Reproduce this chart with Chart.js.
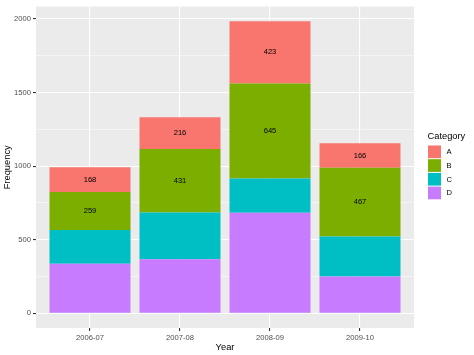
<!DOCTYPE html>
<html><head><meta charset="utf-8">
<script src="https://cdn.jsdelivr.net/npm/chart.js@4/dist/chart.umd.min.js"></script>
<style>html,body{margin:0;padding:0;background:#fff}#wrap{width:474px;height:355px}</style>
</head><body><div id="wrap"><canvas id="c" width="474" height="355"></canvas></div>
<script>
const years = ["2006-07","2007-08","2008-09","2009-10"];
const seriesA = [168,216,423,166];
const seriesB = [259,431,645,467];
const seriesC = [228,317,233,271];
const seriesD = [338,368,684,251];
const yTicks = [0,250,500,750,1000,1250,1500,1750,2000];
const categoryNames = ["A","B","C","D"];
const colors = {A:"#F8766D",B:"#7CAE00",C:"#00BFC4",D:"#C77CFF"};
const FONT = "'Liberation Sans', Arial, sans-serif";

const totals = years.map((_,i)=>seriesA[i]+seriesB[i]+seriesC[i]+seriesD[i]);
const maxTot = Math.max(...totals);
const pad = maxTot*0.05;

const toXY = arr => arr.map((v,i)=>({x:i,y:v}));

const bgPlugin = {
  id:'bg',
  beforeDraw(chart){
    const {ctx, chartArea:a} = chart;
    ctx.save(); ctx.fillStyle='#EBEBEB';
    ctx.fillRect(a.left,a.top,a.right-a.left,a.bottom-a.top); ctx.restore();
  }
};
const labelPlugin = {
  id:'lbl',
  afterDatasetsDraw(chart){
    const ctx=chart.ctx; ctx.save();
    ctx.font = "7.6px "+FONT; ctx.fillStyle='#000'; ctx.textAlign='center'; ctx.textBaseline='middle';
    chart.data.datasets.forEach((ds,di)=>{
      if(!ds.showLabels) return;
      const meta=chart.getDatasetMeta(di);
      meta.data.forEach((bar,i)=>{
        ctx.fillText(String(ds.data[i].y), bar.x, (bar.y+bar.base)/2);
      });
    });
    ctx.restore();
  }
};
const legendPlugin = {
  id:'lg',
  afterDraw(chart){
    const ctx=chart.ctx; ctx.save();
    ctx.fillStyle='#000'; ctx.textBaseline='middle'; ctx.textAlign='left';
    ctx.font="9.3px "+FONT;
    ctx.fillText("Category",427.5,136.5);
    ctx.font="7.6px "+FONT;
    categoryNames.forEach((n,k)=>{
      const y=145.5+k*13.7;
      ctx.fillStyle=colors[n];
      ctx.fillRect(428,y,13,12.7);
      ctx.fillStyle='#000';
      ctx.fillText(n,446.5,y+6.6);
    });
    ctx.restore();
  }
};

new Chart(document.getElementById('c'),{
  type:'bar',
  data:{datasets:[
    {label:'D',data:toXY(seriesD),backgroundColor:colors.D},
    {label:'C',data:toXY(seriesC),backgroundColor:colors.C},
    {label:'B',data:toXY(seriesB),backgroundColor:colors.B,showLabels:true},
    {label:'A',data:toXY(seriesA),backgroundColor:colors.A,showLabels:true}
  ]},
  options:{
    responsive:false, animation:false, devicePixelRatio:1,
    layout:{padding:{left:2,right:60,top:4,bottom:2}},
    datasets:{bar:{barPercentage:0.9,categoryPercentage:1,borderWidth:0}},
    plugins:{legend:{display:false},tooltip:{enabled:false}},
    scales:{
      x:{type:'linear',stacked:true,offset:false,min:-0.6,max:years.length-1+0.6,
        afterBuildTicks(s){s.ticks=years.map((_,i)=>({value:i}));},
        afterFit(s){s.height=25;},
        border:{display:false},
        grid:{offset:false,color:'#FFFFFF',lineWidth:1.1,tickLength:3,tickColor:'#333333'},
        ticks:{color:'#4D4D4D',font:{family:FONT,size:7.6},padding:2,maxRotation:0,autoSkip:false,
          callback:(v)=>years[v]},
        title:{display:true,text:'Year',color:'#000',font:{family:FONT,size:9.3},padding:{top:0,bottom:0}}
      },
      y:{type:'linear',stacked:true,min:-pad,max:maxTot+pad,
        afterBuildTicks(s){s.ticks=yTicks.map(v=>({value:v}));},
        afterFit(s){s.width=34;},
        border:{display:false},
        grid:{color:'#FFFFFF',
          lineWidth:c=>(c.tick && c.tick.value%500===0)?1.1:0.5,
          tickLength:3,
          tickColor:c=>(c.tick && c.tick.value%500===0)?'#333333':'rgba(0,0,0,0)'},
        ticks:{color:'#4D4D4D',font:{family:FONT,size:7.6},padding:2,
          callback:(v)=>(v%500===0?String(v):'')},
        title:{display:true,text:'Frequency',color:'#000',font:{family:FONT,size:9.3},padding:{top:0,bottom:2}}
      }
    }
  },
  plugins:[bgPlugin,labelPlugin,legendPlugin]
});
</script></body></html>
